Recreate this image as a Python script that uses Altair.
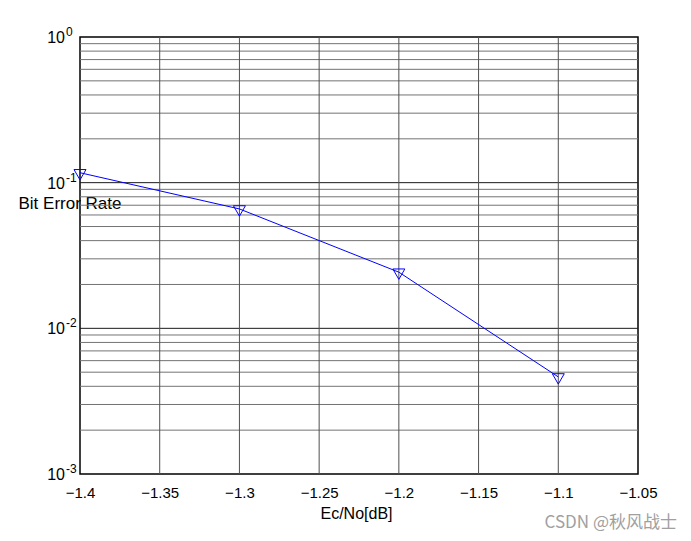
import altair as alt
import pandas as pd

# data
ecno = [-1.4, -1.3, -1.2, -1.1]
ber = [0.117, 0.066, 0.0243, 0.00464]

x_ticks = [-1.4, -1.35, -1.3, -1.25, -1.2, -1.15, -1.1, -1.05]
x_grid = [-1.35, -1.3, -1.25, -1.2, -1.15, -1.1]
decades = [1.0, 0.1, 0.01, 0.001]
exponents = ["0", "-1", "-2", "-3"]
minor_grid = [m * d for d in [0.001, 0.01, 0.1] for m in range(2, 10)]
major_grid = [0.1, 0.01]

df = pd.DataFrame({"x": ecno, "y": ber})
df_minor = pd.DataFrame({"y": minor_grid})
df_major = pd.DataFrame({"y": major_grid})
df_vgrid = pd.DataFrame({"x": x_grid})
df_dec = pd.DataFrame({"y": decades, "e": exponents})

FONT = "Liberation Sans"

xscale = alt.Scale(domain=[-1.4, -1.05], nice=False, zero=False)
yscale = alt.Scale(type="log", domain=[0.001, 1], nice=False)

xaxis = alt.Axis(values=x_ticks, format="~g", grid=False, domain=False, ticks=False,
                 labelFont=FONT, labelFontSize=15, labelColor="#000", labelPadding=11,
                 labelFlush=False, labelOverlap=False,
                 title="Ec/No[dB]", titleFont=FONT, titleFontSize=16, titleFontWeight="normal",
                 titleColor="#000", titleBaseline="top", titleY=31, titleX=276)
yaxis = alt.Axis(labels=False, ticks=False, domain=False, grid=False,
                 title="Bit Error Rate", titleAngle=0, titleAlign="left", titleBaseline="middle",
                 titleX=-62, titleY=166, titleFont=FONT, titleFontSize=17,
                 titleFontWeight="normal", titleColor="#000")

base = alt.Chart(df)

line = base.mark_line(color="#0000ff", strokeWidth=1).encode(
    x=alt.X("x:Q", scale=xscale, axis=xaxis),
    y=alt.Y("y:Q", scale=yscale, axis=yaxis),
)
pts = base.mark_point(shape="triangle-down", filled=False, color="#0000ff", size=144,
                      strokeWidth=1, opacity=1, yOffset=2).encode(
    x=alt.X("x:Q", scale=xscale),
    y=alt.Y("y:Q", scale=yscale),
)

minor = alt.Chart(df_minor).mark_rule(color="#737373", strokeWidth=1).encode(
    y=alt.Y("y:Q", scale=yscale), x=alt.value(0), x2=alt.value(558))
major = alt.Chart(df_major).mark_rule(color="#1a1a1a", strokeWidth=1).encode(
    y=alt.Y("y:Q", scale=yscale), x=alt.value(0), x2=alt.value(558))
vgrid = alt.Chart(df_vgrid).mark_rule(color="#505050", strokeWidth=1).encode(
    x=alt.X("x:Q", scale=xscale), y=alt.value(0), y2=alt.value(437))

ten = alt.Chart(df_dec).mark_text(text="10", align="right", baseline="middle", font=FONT,
                                  fontSize=16, color="#000", dy=1).encode(
    y=alt.Y("y:Q", scale=yscale), x=alt.value(-15))
exp = alt.Chart(df_dec).mark_text(align="left", baseline="middle", font=FONT,
                                  fontSize=12, color="#000", dy=-5).encode(
    y=alt.Y("y:Q", scale=yscale), x=alt.value(-14), text="e:N")

wm = alt.Chart(pd.DataFrame({"t": ["CSDN @秋风战士"]})).mark_text(
    align="right", baseline="middle", font="Noto Sans CJK SC", fontSize=17, color="#a0a0a0").encode(
    text="t:N", x=alt.value(597), y=alt.value(486))

chart = alt.layer(minor, major, vgrid, line, pts, ten, exp, wm).properties(
    width=558, height=437,
    autosize=alt.AutoSizeParams(type="none"),
    padding={"left": 72, "top": 29, "right": 45, "bottom": 60},
    background="white",
).configure_view(stroke="#000", strokeWidth=1.5)

chart.save("out.html", embed_options={"renderer": "svg", "actions": False})
